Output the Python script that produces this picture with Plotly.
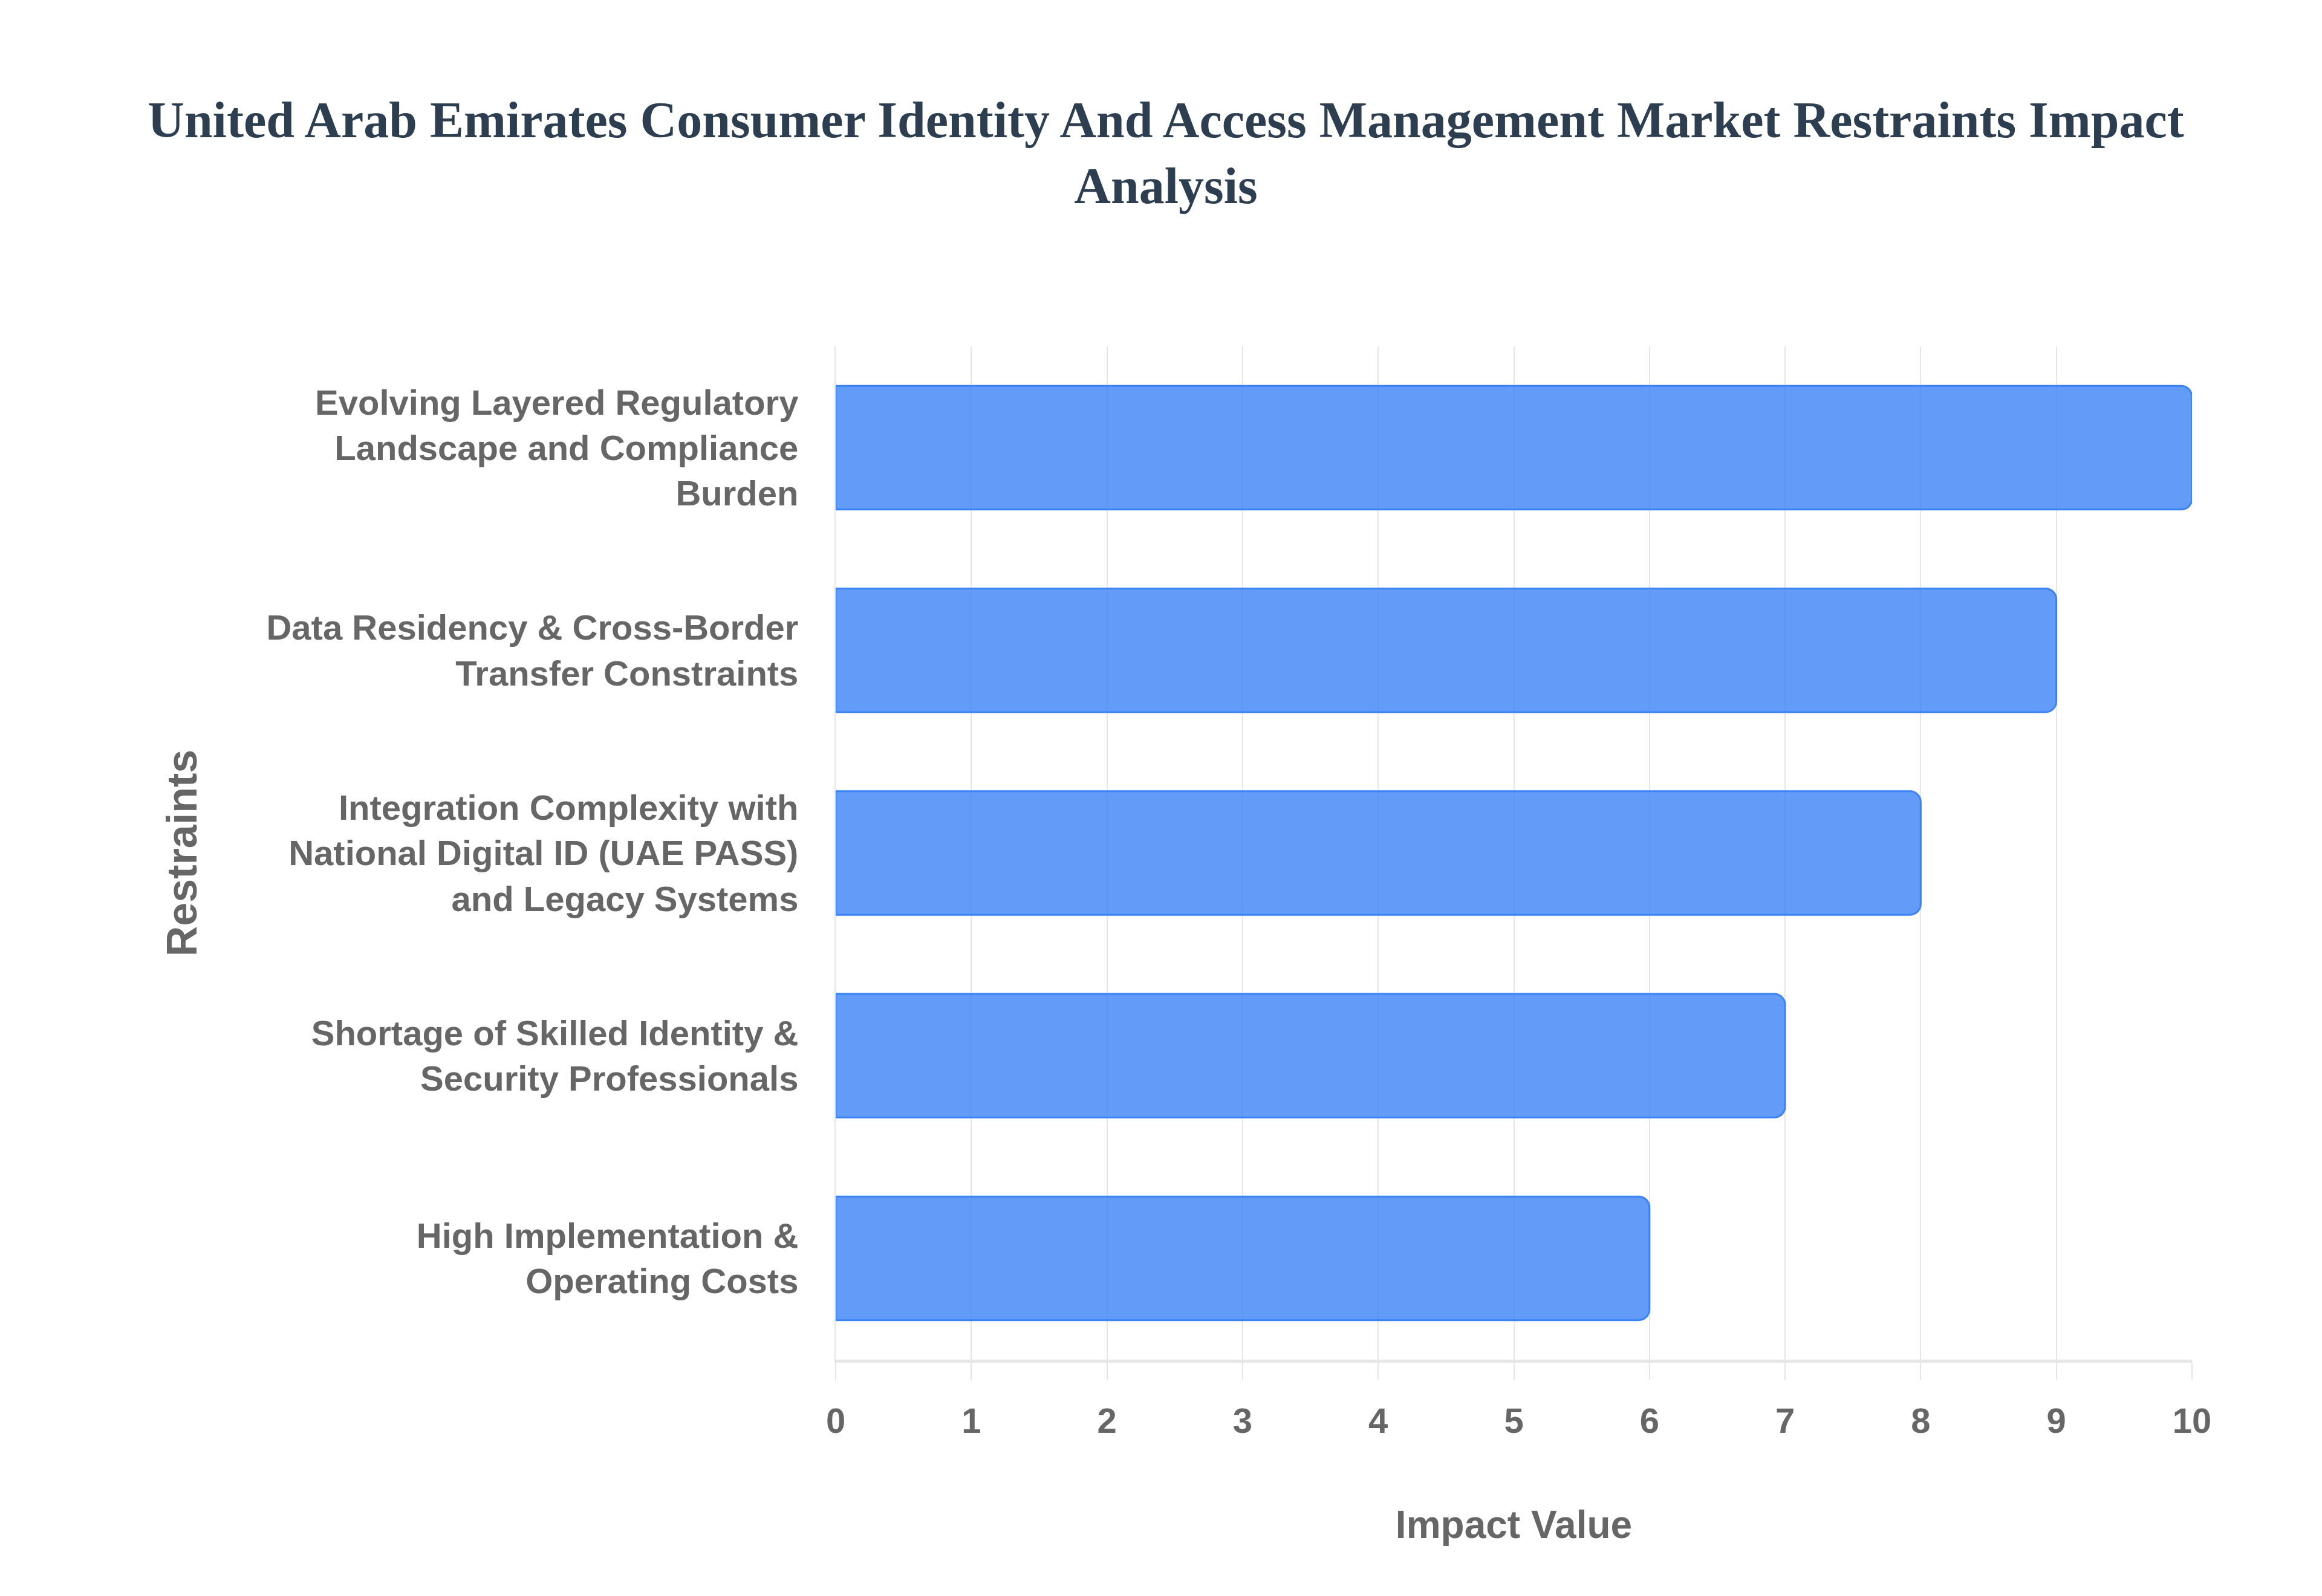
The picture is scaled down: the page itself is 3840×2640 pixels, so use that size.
import plotly.graph_objects as go

# restraints listed top to bottom as they appear on the chart
restraints = [
    "Evolving Layered Regulatory<br>Landscape and Compliance<br>Burden",
    "Data Residency & Cross-Border<br>Transfer Constraints",
    "Integration Complexity with<br>National Digital ID (UAE PASS)<br>and Legacy Systems",
    "Shortage of Skilled Identity &<br>Security Professionals",
    "High Implementation &<br>Operating Costs",
]
impact_values = [10, 9, 8, 7, 6]
x_ticks = [0, 1, 2, 3, 4, 5, 6, 7, 8, 9, 10]

title_text = ("United Arab Emirates Consumer Identity And Access Management Market Restraints Impact"
              "<br>Analysis")

label_font = dict(family="Liberation Sans, Arial, sans-serif", color="#666666", weight="bold")
grid_col = "#e6e6e6"

fig = go.Figure(go.Bar(
    x=impact_values,
    y=restraints,
    orientation="h",
    marker=dict(color="rgba(59,130,246,0.8)",
                line=dict(color="rgb(59,130,246)", width=3),
                cornerradius=18),
))

fig.update_layout(
    width=3840, height=2640,
    paper_bgcolor="white", plot_bgcolor="white",
    margin=dict(l=1374, r=223, t=565, b=399),
    bargap=0.39,
    showlegend=False,
    title=dict(text=title_text, x=0.5, xanchor="center", y=0.917, yanchor="middle",
               font=dict(family="Liberation Serif, Times New Roman, serif", size=84,
                         color="#2c3e50", weight="bold")),
)

fig.update_xaxes(
    range=[0, 10], tickvals=x_ticks,
    showgrid=True, gridcolor=grid_col, gridwidth=2,
    zeroline=False,
    showline=True, linecolor=grid_col, linewidth=5, mirror=False,
    ticks="outside", ticklen=29, tickcolor=grid_col, tickwidth=2,
    ticklabelstandoff=17,
    tickfont=dict(size=58, **label_font),
    title=dict(text="Impact Value", standoff=120, font=dict(size=64, **label_font)),
)

fig.update_yaxes(
    autorange="reversed",
    showgrid=False, zeroline=False,
    showline=True, linecolor=grid_col, linewidth=2,
    ticks="", ticklabelstandoff=48,
    tickfont=dict(size=58, **label_font),
    title=dict(text="Restraints", standoff=92, font=dict(size=70, **label_font)),
)

fig.write_html("out.html")
